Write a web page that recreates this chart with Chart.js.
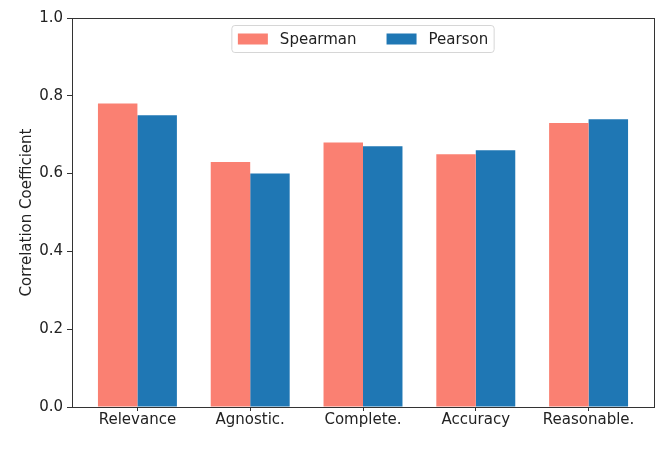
<!DOCTYPE html>
<html>
<head>
<meta charset="utf-8">
<script src="https://cdn.jsdelivr.net/npm/chart.js@4/dist/chart.umd.min.js"></script>
<style>
  html, body { margin: 0; padding: 0; background: #fff; }
  canvas { display: block; }
</style>
</head>
<body>
<canvas id="corr" width="672" height="470"></canvas>
<script>
// data
const categories = ['Relevance', 'Agnostic.', 'Complete.', 'Accuracy', 'Reasonable.'];
const spearman = [0.78, 0.63, 0.68, 0.65, 0.73];
const pearson = [0.75, 0.60, 0.67, 0.66, 0.74];
const yTicks = [0.0, 0.2, 0.4, 0.6, 0.8, 1.0];

const FONT = 'DejaVu Sans';
const TEXT = '#222222';
const SPINE = '#333333';

// frame around the axes + legend box inside the plot, matplotlib style
const framePlugin = {
  id: 'frame',
  afterDraw(chart) {
    const { ctx, chartArea: a } = chart;
    ctx.save();
    ctx.strokeStyle = SPINE;
    ctx.lineWidth = 1;
    ctx.strokeRect(Math.round(a.left) + 0.5, Math.round(a.top) + 0.5,
      Math.round(a.right - a.left), Math.round(a.bottom - a.top));

    // legend
    const fs = 15;
    ctx.font = fs + 'px "' + FONT + '"';
    const handleW = 30, handleH = 11, textPad = 12, colGap = 30, pad = 6;
    const items = chart.data.datasets.map(d => ({ label: d.label, color: d.backgroundColor, w: ctx.measureText(d.label).width }));
    let boxW = pad * 2;
    items.forEach((it, i) => { boxW += handleW + textPad + it.w + (i > 0 ? colGap : 0); });
    const boxH = 27;
    const cx = (a.left + a.right) / 2;
    const bx = cx - boxW / 2, by = a.top + 7.5;

    ctx.beginPath();
    ctx.roundRect(bx, by, boxW, boxH, 3);
    ctx.fillStyle = 'rgba(255,255,255,0.8)';
    ctx.fill();
    ctx.strokeStyle = '#d6d6d6';
    ctx.stroke();

    let x = bx + pad;
    const midY = by + boxH / 2;
    ctx.textBaseline = 'middle';
    ctx.textAlign = 'left';
    items.forEach((it, i) => {
      if (i > 0) x += colGap;
      ctx.fillStyle = it.color;
      ctx.fillRect(x, midY - handleH / 2, handleW, handleH);
      x += handleW + textPad;
      ctx.fillStyle = TEXT;
      ctx.fillText(it.label, x, midY + 1);
      x += it.w;
    });
    ctx.restore();
  }
};

function toPoints(values) {
  return values.map((v, i) => ({ x: i, y: v }));
}

new Chart(document.getElementById('corr'), {
  type: 'bar',
  data: {
    datasets: [
      { label: 'Spearman', data: toPoints(spearman), backgroundColor: '#FA8072' },
      { label: 'Pearson', data: toPoints(pearson), backgroundColor: '#1F77B4' }
    ]
  },
  options: {
    responsive: false,
    animation: false,
    devicePixelRatio: 1,
    categoryPercentage: 0.7,
    barPercentage: 1.0,
    layout: { padding: { left: 0, top: 18, right: 18, bottom: 0 } },
    plugins: {
      legend: { display: false },
      tooltip: { enabled: false }
    },
    scales: {
      x: {
        type: 'linear',
        min: -0.58,
        max: categories.length - 1 + 0.58,
        offset: false,
        afterFit(scale) { scale.height = 63; },
        afterBuildTicks(scale) {
          scale.ticks = categories.map((c, i) => ({ value: i }));
        },
        border: { display: false },
        grid: { offset: false, drawOnChartArea: false, drawTicks: true, tickLength: 4, color: SPINE },
        ticks: {
          color: TEXT,
          font: { family: FONT, size: 15 },
          padding: 0,
          maxRotation: 0,
          callback: v => categories[v]
        }
      },
      y: {
        min: 0,
        max: 1,
        afterFit(scale) { scale.width = 72; },
        afterBuildTicks(scale) {
          scale.ticks = yTicks.map(v => ({ value: v }));
        },
        border: { display: false },
        grid: { drawOnChartArea: false, drawTicks: true, tickLength: 5, color: SPINE },
        ticks: {
          color: TEXT,
          font: { family: FONT, size: 15 },
          padding: 4,
          callback: v => v.toFixed(1)
        },
        title: {
          display: true,
          text: 'Correlation Coefficient',
          color: TEXT,
          font: { family: FONT, size: 15 },
          padding: { top: 18, bottom: 0 }
        }
      }
    }
  },
  plugins: [framePlugin]
});
</script>
</body>
</html>
